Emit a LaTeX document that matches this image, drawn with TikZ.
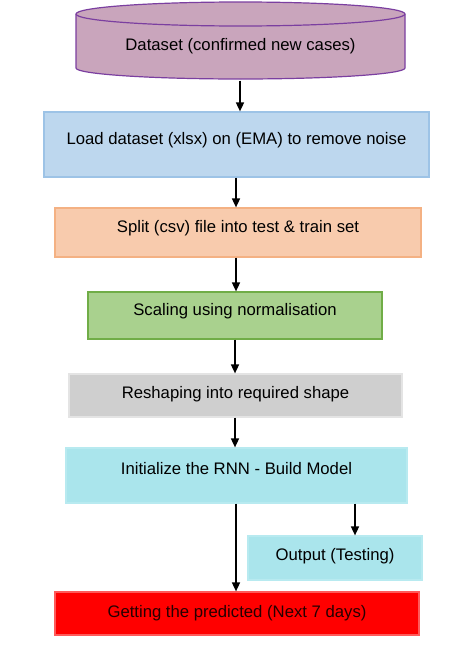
\documentclass[tikz,border=0pt]{standalone}
\usepackage{fontspec}
\setmainfont{Liberation Sans}
\usetikzlibrary{arrows.meta}
\definecolor{cylfill}{HTML}{C9A5BC}
\definecolor{cyldraw}{HTML}{7B3FA0}
\definecolor{bluefill}{HTML}{BDD7EE}
\definecolor{bluedraw}{HTML}{9DC3E6}
\definecolor{orfill}{HTML}{F8CBAD}
\definecolor{ordraw}{HTML}{F4B183}
\definecolor{grfill}{HTML}{A9D18E}
\definecolor{grdraw}{HTML}{70AD47}
\definecolor{gyfill}{HTML}{CFCFCF}
\definecolor{gydraw}{HTML}{E4E4E4}
\definecolor{cyfill}{HTML}{AAE5EC}
\definecolor{cydraw}{HTML}{B8EAF0}
\definecolor{rdfill}{HTML}{FF0000}
\definecolor{rddraw}{HTML}{FF5A5A}
\newcommand{\liftby}[2]{\raisebox{#1}[\height][\depth]{#2}}
\tikzset{
  stepbox/.style={rectangle, line width=1.2pt, inner sep=0pt, font=\fontsize{16.7}{19}\selectfont},
  arr/.style={line width=1.6pt, -{Triangle[length=9pt,width=8pt]}}
}
\begin{document}
\begin{tikzpicture}[x=1pt,y=-1pt]
\useasboundingbox (0,0) rectangle (474,645);
% cylinder body
\node[stepbox, minimum width=329pt, minimum height=78pt] (data) at (240,41) {};
\filldraw[fill=cylfill, draw=cyldraw, line width=1.2pt]
  (76,14) -- (76,68) arc[start angle=180, end angle=0, x radius=164.5, y radius=11]
  -- (405,14) arc[start angle=0, end angle=-180, x radius=164.5, y radius=12] -- cycle;
\draw[cyldraw, line width=1.2pt] (76,14) arc[start angle=180, end angle=0, x radius=164.5, y radius=12];
\node[font=\fontsize{16.7}{19}\selectfont] (datatext) at (240.5,46) {Dataset (confirmed new cases)};

\node[stepbox, fill=bluefill, draw=bluedraw, minimum width=385pt, minimum height=65pt] (load) at (236.5,144.5) {\liftby{4pt}{Load dataset (xlsx) on (EMA) to remove noise}};
\node[stepbox, fill=orfill, draw=ordraw, minimum width=366pt, minimum height=49pt] (split) at (238,232.5) {\liftby{4pt}{Split (csv) file into test \& train set}};
\node[stepbox, fill=grfill, draw=grdraw, minimum width=294pt, minimum height=47pt] (scale) at (235,315.5) {\liftby{4pt}{Scaling using normalisation}};
\node[stepbox, fill=gyfill, draw=gydraw, minimum width=333pt, minimum height=43pt] (reshape) at (235.5,395.5) {\liftby{1pt}{Reshaping into required shape}};
\node[stepbox, fill=cyfill, draw=cydraw, minimum width=341pt, minimum height=55pt] (init) at (236.5,475.5) {\liftby{7pt}{Initialize the RNN - Build Model}};
\node[stepbox, fill=cyfill, draw=cydraw, minimum width=174pt, minimum height=44pt] (out) at (335,558) {\liftby{2pt}{Output (Testing)}};
\node[stepbox, fill=rdfill, draw=rddraw, minimum width=364pt, minimum height=43pt, text=black!85!red] (pred) at (237,613.5) {Getting the predicted (Next 7 days)};

\draw[arr] (data.south) -- (data.south |- load.north);
\draw[arr] ([xshift=-0.5pt]load.south) -- ([xshift=-0.5pt]load.south |- split.north);
\draw[arr] ([xshift=-2pt]split.south) -- ([xshift=-2pt]split.south |- scale.north);
\draw[arr] (scale.south) -- (scale.south |- reshape.north);
\draw[arr] ([xshift=-0.5pt]reshape.south) -- ([xshift=-0.5pt]reshape.south |- init.north);
\draw[arr] ([xshift=20pt]out.north |- init.south) -- ([xshift=20pt]out.north);
\draw[arr] ([xshift=-0.5pt]init.south) -- ([xshift=-0.5pt]init.south |- pred.north);
\end{tikzpicture}
\end{document}
